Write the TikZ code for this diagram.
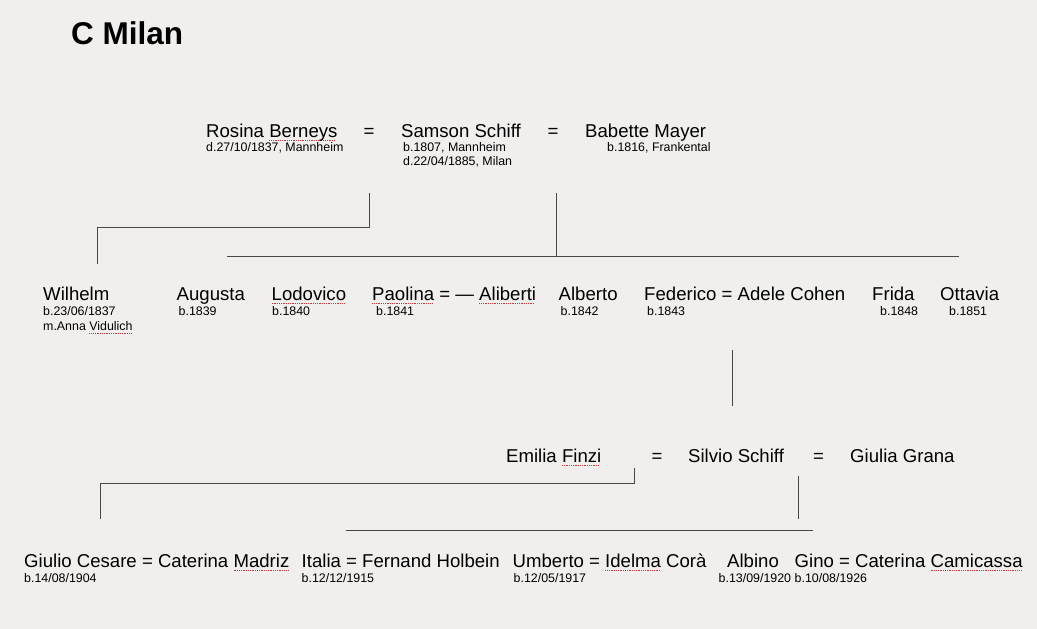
\documentclass[tikz,border=0pt]{standalone}
\usepackage{fontspec}
\setmainfont{Liberation Sans}
\definecolor{bg}{HTML}{F1EFED}
\definecolor{ln}{HTML}{4A4646}
\definecolor{spell}{HTML}{D83030}
\newsavebox\spellbox
\newcommand\spellu[1]{\sbox\spellbox{#1}\rlap{\textcolor{spell}{\leaders\hbox{\rule[-3.6pt]{1pt}{1pt}\kern0.8pt}\hskip\wd\spellbox}}\usebox\spellbox}
\begin{document}
\begin{tikzpicture}[x=1pt,y=-1pt,
  person/.style={anchor=base west,inner sep=0pt,font=\fontsize{18.6}{22}\selectfont},
  eqsign/.style={anchor=base,inner sep=0pt,font=\fontsize{18.6}{22}\selectfont},
  info/.style={anchor=base west,inner sep=0pt,font=\fontsize{12.4}{14}\selectfont},
  titletext/.style={anchor=base west,inner sep=0pt,font=\fontsize{31.5}{36}\selectfont\bfseries},
  link/.style={draw=ln,line width=1.1pt}]
\fill[bg] (0,0) rectangle (1037,629);
\useasboundingbox (0,0) rectangle (1037,629);

% title
\node[titletext] (title) at (71,44) {C Milan};

% generation 1
\node[person] (rosina) at (206,137) {Rosina \spellu{Berneys}};
\node[eqsign] (eqA) at (369,137) {=};
\node[person] (samson) at (401,137) {Samson Schiff};
\node[eqsign] (eqB) at (553,137) {=};
\node[person] (babette) at (585,137) {Babette Mayer};
\node[info] (rosinaD) at (206,151.5) {d.27/10/1837, Mannheim};
\node[info] (samsonB) at (403,151.5) {b.1807, Mannheim};
\node[info] (samsonD) at (403,165.5) {d.22/04/1885, Milan};
\node[info] (babetteB) at (607,151.5) {b.1816, Frankental};

% generation 2
\node[person] (wilhelm) at (43,300) {Wilhelm};
\node[info] (wilhelmB) at (43,315) {b.23/06/1837};
\node[info] (wilhelmM) at (43,330) {m.Anna \spellu{Vidulich}};
\node[person] (augusta) at (176.5,300) {Augusta};
\node[info] (augustaB) at (178.5,315) {b.1839};
\node[person] (lodovico) at (271.5,300) {\spellu{Lodovico}};
\node[info] (lodovicoB) at (272,315) {b.1840};
\node[person] (paolina) at (372,300) {\spellu{Paolina} = --- \spellu{Aliberti}};
\node[info] (paolinaB) at (376,315) {b.1841};
\node[person] (alberto) at (558.5,300) {Alberto};
\node[info] (albertoB) at (560.5,315) {b.1842};
\node[person] (federico) at (644,300) {Federico = Adele Cohen};
\node[info] (federicoB) at (647,315) {b.1843};
\node[person] (frida) at (872,300) {Frida};
\node[info] (fridaB) at (880,315) {b.1848};
\node[person] (ottavia) at (940,300) {Ottavia};
\node[info] (ottaviaB) at (949,315) {b.1851};

% generation 3
\node[person] (emilia) at (506,462) {Emilia \spellu{Finzi}};
\node[eqsign] (eqC) at (657,462) {=};
\node[person] (silvio) at (688,462) {Silvio Schiff};
\node[eqsign] (eqD) at (818.5,462) {=};
\node[person] (giulia) at (850,462) {Giulia Grana};

% generation 4
\node[person] (giulio) at (24,567) {Giulio Cesare = Caterina \spellu{Madriz}};
\node[info] (giulioB) at (24,582) {b.14/08/1904};
\node[person] (italia) at (301.5,567) {Italia = Fernand Holbein};
\node[info] (italiaB) at (301.5,582) {b.12/12/1915};
\node[person] (umberto) at (512.5,567) {Umberto = \spellu{Idelma} Corà};
\node[info] (umbertoB) at (513.5,582) {b.12/05/1917};
\node[person] (albino) at (727,567) {Albino};
\node[info] (albinoB) at (718.5,582) {b.13/09/1920};
\node[person] (gino) at (794.5,567) {Gino = Caterina \spellu{Camicassa}};
\node[info] (ginoB) at (794.5,582) {b.10/08/1926};

% connector points
\coordinate (r1top) at (369.5,193);
\coordinate (r1corner) at (369.5,227.5);
\coordinate (r1left) at (97.5,227.5);
\coordinate (r1end) at (97.5,263.5);
\coordinate (b1top) at (556.5,193);
\coordinate (b1bar) at (556.5,256.5);
\coordinate (b1barL) at (227,256.5);
\coordinate (b1barR) at (958.5,256.5);
\coordinate (f1top) at (732.5,350);
\coordinate (f1end) at (732.5,406);
\coordinate (e1top) at (634.5,467.5);
\coordinate (e1corner) at (634.5,483.5);
\coordinate (e1left) at (100.5,483.5);
\coordinate (e1end) at (100.5,519);
\coordinate (g1top) at (798.5,476);
\coordinate (g1end) at (798.5,519);
\coordinate (g1barL) at (345.5,530.5);
\coordinate (g1barR) at (812.7,530.5);

% connectors
\draw[link] (r1top) -- (r1corner) -- (r1left) -- (r1end);
\draw[link] (b1top) -- (b1bar);
\draw[link] (b1barL) -- (b1barR);
\draw[link] (f1top) -- (f1end);
\draw[link] (e1top) -- (e1corner) -- (e1left) -- (e1end);
\draw[link] (g1top) -- (g1end);
\draw[link] (g1barL) -- (g1barR);
\end{tikzpicture}
\end{document}
